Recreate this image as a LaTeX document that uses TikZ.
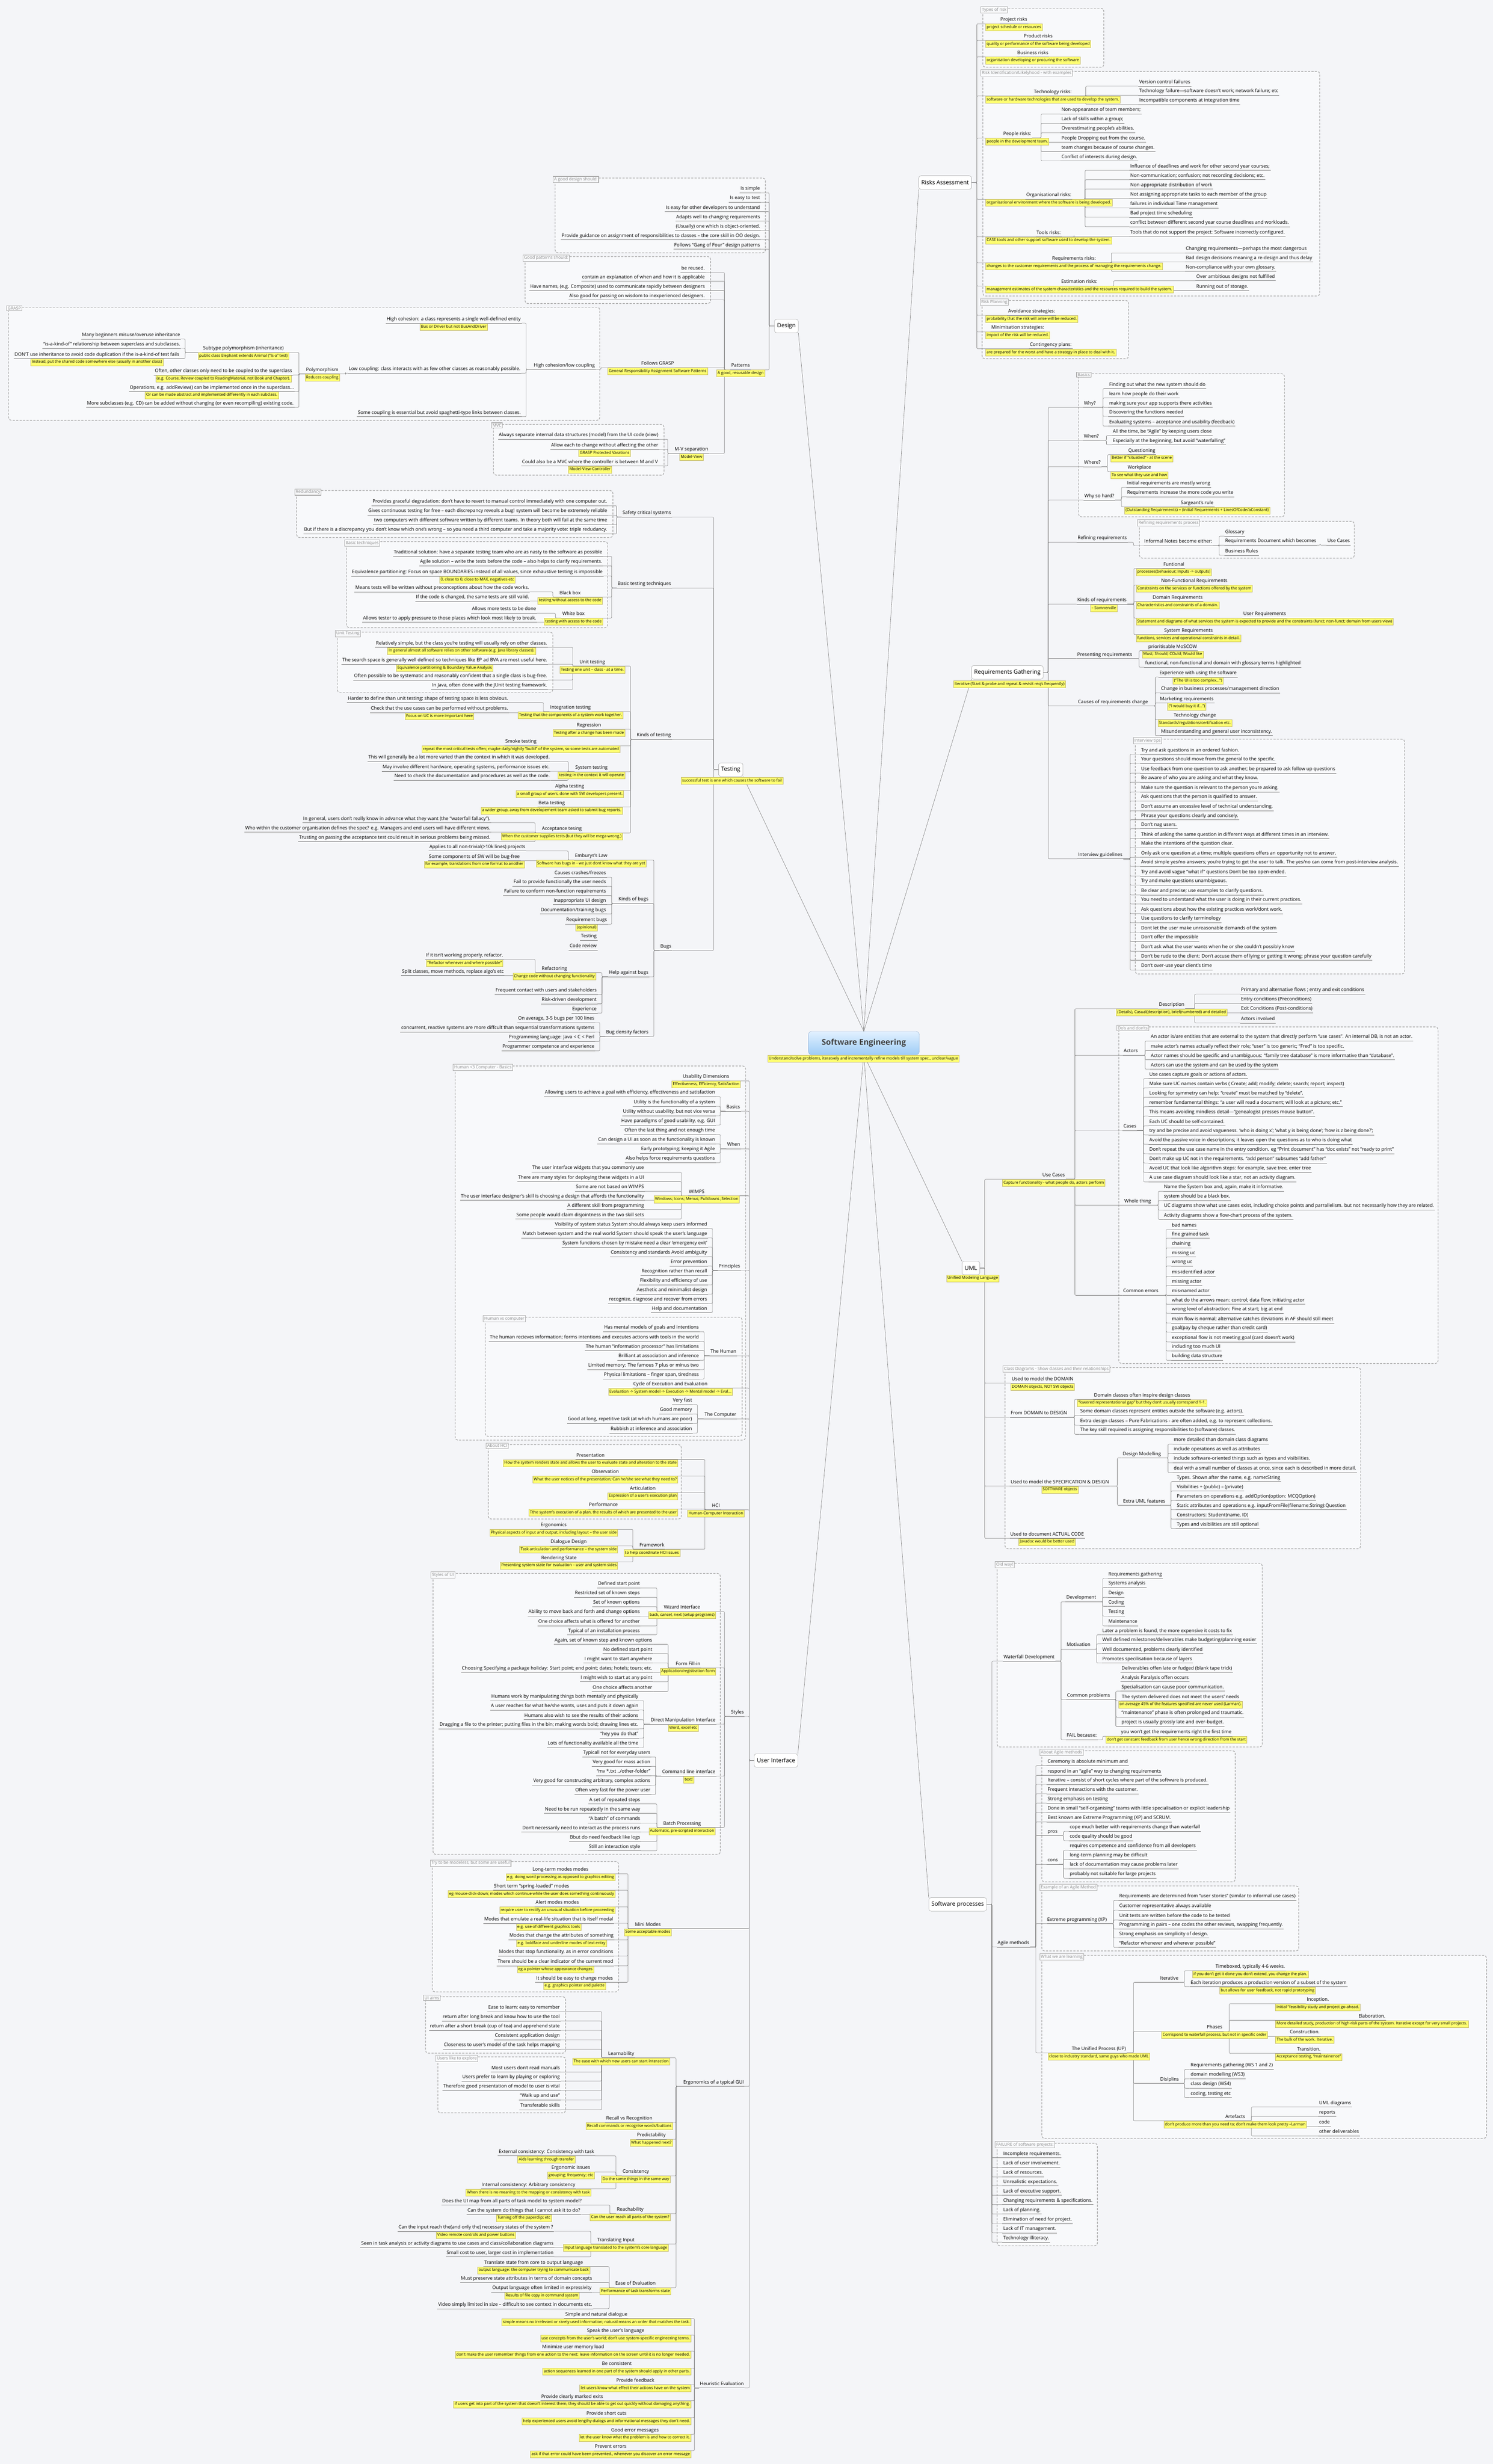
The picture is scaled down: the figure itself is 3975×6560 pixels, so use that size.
\documentclass[tikz,border=0pt]{standalone}
\usepackage{fontspec}
\setmainfont{Open Sans}
\definecolor{bgc}{RGB}{244,245,248}
\definecolor{boxfill}{RGB}{248,249,251}
\definecolor{boxline}{RGB}{172,172,172}
\definecolor{labtext}{RGB}{140,140,140}
\definecolor{linec}{RGB}{125,125,125}
\definecolor{notefill}{RGB}{255,255,112}
\definecolor{noteline}{RGB}{196,186,110}
\definecolor{hubline}{RGB}{140,140,140}
\definecolor{coretop}{RGB}{226,241,255}
\definecolor{corebot}{RGB}{158,204,246}
\definecolor{coreline}{RGB}{128,160,200}
\pgfdeclarelayer{back}
\pgfdeclarelayer{wires}
\pgfsetlayers{back,wires,main}
\tikzset{
  conn/.style={draw=linec, line width=0.6pt, rounded corners=2pt},
  lf/.style={font=\fontsize{9}{10}\selectfont, inner xsep=1.5pt, inner ysep=3pt,
    text height=6.6pt, text depth=1.9pt,
    append after command={(\tikzlastnode.south west) edge[conn] (\tikzlastnode.south east)}},
  nt/.style={font=\fontsize{7.5}{8}\selectfont, fill=notefill, draw=noteline, line width=0.4pt,
    inner xsep=2pt, inner ysep=3pt, text height=5.5pt, text depth=1.6pt},
  grp/.style={draw=boxline, line width=1.3pt, dash pattern=on 4pt off 2.5pt, rounded corners=5pt, fill=boxfill},
  glab/.style={draw=boxline, line width=1pt, fill=boxfill, text=labtext, font=\fontsize{8}{9}\selectfont, inner sep=2pt},
  hub/.style={draw=hubline, fill=white, rounded corners=4pt, font=\fontsize{11}{13}\selectfont, minimum height=9mm, inner xsep=5pt},
  core/.style={draw=coreline, top color=coretop, bottom color=corebot, rounded corners=6pt,
    font=\bfseries\fontsize{15}{17}\selectfont, text=black!75, minimum width=73.75mm, minimum height=15.5mm}
}
% connectors and boundaries are collected, then drawn once on their layers
\newcommand{\wirelist}{}
\newcommand{\boxlist}{}
\newcommand{\wire}[3]{\edef\wtmp{\noexpand\draw[conn] (#1) -- (#2,0 |- #1) |- (#3);}%
  \xdef\wirelist{\unexpanded\expandafter{\wirelist}\unexpanded\expandafter{\wtmp}}}
% leaves to the right / left of a parent: parent, trunk x, text x, {y/text,...}
\newcommand{\kidsR}[4]{%
  \foreach \y/\txt [count=\i] in {#4}{%
    \node[lf,anchor=west] (#1-\i) at (#3,\y) {\txt};
    \wire{#1.south east}{#2}{#1-\i.south west}}}
\newcommand{\kidsL}[4]{%
  \foreach \y/\txt [count=\i] in {#4}{%
    \node[lf,anchor=east] (#1-\i) at (#3,\y) {\txt};
    \wire{#1.south west}{#2}{#1-\i.south east}}}
% single links: parent, trunk x, child
\newcommand{\linkR}[3]{\wire{#1.south east}{#2}{#3.south west}}
\newcommand{\linkL}[3]{\wire{#1.south west}{#2}{#3.south east}}
\newcommand{\hubR}[3]{\wire{#1.east}{#2}{#3.south west}}
\newcommand{\hubL}[3]{\wire{#1.west}{#2}{#3.south east}}
% topic with a note: name, note x, note y, label, note
\newcommand{\topR}[5]{\node[nt,anchor=west] (#1n) at (#2,#3) {#5}; \node[lf,anchor=south] (#1) at (#1n.north) {#4};}
\newcommand{\topL}[5]{\node[nt,anchor=east] (#1n) at (#2,#3) {#5}; \node[lf,anchor=south] (#1) at (#1n.north) {#4};}
\newcommand{\topC}[5]{\node[nt] (#1n) at (#2,#3) {#5}; \node[lf,anchor=south] (#1) at (#1n.north) {#4};}
% dashed boundary with its title
\newcommand{\grpbox}[5]{\xdef\boxlist{\unexpanded\expandafter{\boxlist}\unexpanded{\draw[grp] (#1,#2) rectangle (#3,#4);}}%
  \node[glab,anchor=north west] at (#1-6,#2-5) {#5};}

\begin{document}
\begin{tikzpicture}[x=0.25mm,y=-0.25mm]
\useasboundingbox (0,0) rectangle (3975,6560);

% Central topic
\node[core] (se) at (2300,2777) {Software Engineering};
\node[nt] (sen) at (2299,2819) {Understand/solve problems, iteratvely and incrementally refine models till system spec., unclear/vague};

% ---------------- Risks Assessment ----------------
\node[hub,anchor=east] (risk) at (2587,486) {Risks Assessment};
\grpbox{2617}{22}{2939}{179}{Types of risk}
\topR{prj}{2624}{73}{Project risks}{project schedule or resources}
\topR{prd}{2624}{117}{Product risks}{quality or performance of the software being developed}
\topR{bus}{2624}{161}{Business risks}{organisation developing or procuring the software}
\grpbox{2617}{190}{3514}{788}{Risk Identification/Likelyhood - with examples}
\topR{tek}{2624}{265}{Technology risks:}{software or hardware technologies that are used to develop the system.}
\kidsR{tek}{2891}{3031}{219/{Version control failures},243/{Technology failure—software doesn’t work; network failure; etc},268/{Incompatible components at integration time}}
\topR{ppl}{2624}{377}{People risks:}{people in the development team.}
\kidsR{ppl}{2772}{2824}{293/{Non-appearance of team members;},318/{Lack of skills within a group;},343/{Overestimating people’s abilities.},368/{People Dropping out from the course.},393/{team changes because of course changes.},418/{Conflict of interests during design.}}
\topR{org}{2624}{540}{Organisational risks:}{organisational environment where the software is being developed.}
\kidsR{org}{2889}{3007}{443/{Influence of deadlines and work for other second year courses;},468/{Non-communication; confusion; not recording decisions; etc.},493/{Non-appropriate distribution of work},518/{Not assigning appropriate tasks to each member of the group},543/{failures in individual Time management},568/{Bad project time scheduling},593/{conflict between different second year course deadlines and workloads.}}
\topR{tls}{2624}{640}{Tools risks:}{CASE tools and other support software used to develop the system.}
\kidsR{tls}{2860}{3007}{619/{Tools that do not support the project: Software incorrectly configured.}}
\topR{rqr}{2624}{709}{Requirements risks:}{changes to the customer requirements and the process of managing the requirements change.}
\kidsR{rqr}{2959}{3155}{663/{Changing requirements—perhaps the most dangerous},687/{Bad design decisions meaning a re-design and thus delay},712/{Non-compliance with your own glossary.}}
\topR{est}{2624}{771}{Estimation risks:}{management estimates of the system characteristics and the resources required to build the system.}
\kidsR{est}{2965}{3183}{737/{Over ambitious designs not fulfilled},763/{Running out of storage.}}
\grpbox{2615}{800}{3005}{955}{Risk Planning}
\topR{avd}{2624}{849}{Avoidance strategies:}{probability that the risk will arise will be reduced.}
\topR{mnm}{2624}{893}{Minimisation strategies:}{impact of the risk will be reduced.}
\topR{cnt}{2624}{938}{Contingency plans:}{are prepared for the worst and have a strategy in place to deal with it.}
\foreach \c in {prj,prd,bus,tek,ppl,org,tls,rqr,est,avd,mnm,cnt}{\hubR{risk}{2601}{\c}}

% ---------------- Requirements Gathering ----------------
\node[hub,anchor=east] (req) at (2778,1790) {Requirements Gathering};
\node[nt] (reqn) at (2688,1821) {Iterative (Start \& probe and repeat \& revisit req’s frequently)};
\grpbox{2872}{995}{3420}{1376}{Basics}
\node[lf,anchor=east] (why) at (2920,1074) {Why?};
\kidsR{why}{2937}{2951}{1024/{Finding out what the new system should do},1049/{learn how people do their work},1074/{making sure your app supports there activities},1098/{Discovering the functions needed},1124/{Evaluating systems – acceptance and usability (feedback)}}
\node[lf,anchor=east] (when) at (2928,1162) {When?};
\kidsR{when}{2946}{2961}{1149/{All the time, be “Agile” by keeping users close},1174/{Especially at the beginning, but avoid “waterfalling”}}
\node[lf,anchor=east] (where) at (2933,1232) {Where?};
\topR{qst}{2957}{1220}{Questioning}{Better if “situatied” - at the scene}
\topR{wkp}{2957}{1265}{Workplace}{To see what they use and how}
\linkR{where}{2949}{qst} \linkR{where}{2949}{wkp}
\node[lf,anchor=east] (hard) at (2969,1321) {Why so hard?};
\kidsR{hard}{2986}{2999}{1287/{Initial requirements are mostly wrong},1312/{Requirements increase the more code you write}}
\topR{sarg}{2994}{1359}{Sargeant’s rule}{(Outstanding Requirements) = (Initial Requrements + LinesOfCode/aConstant)}
\linkR{hard}{2986}{sarg}
\node[lf,anchor=east] (refr) at (3003,1433) {Refining requirements};
\grpbox{3034}{1388}{3606}{1486}{Refining requirements process}
\node[lf,anchor=east] (inf) at (3230,1442) {Informal Notes become either:};
\linkR{refr}{3018}{inf}
\kidsR{inf}{3246}{3260}{1417/{Glossary},1441/{Requirements Document which becomes},1468/{Business Rules}}
\node[lf,anchor=west] (ucs) at (3532,1441) {Use Cases};
\linkR{inf-2}{3515}{ucs}
\node[lf,anchor=east] (kinds) at (3002,1598) {Kinds of requirements};
\node[nt,anchor=east] (kindsn) at (2975,1619) {-- Somnerville};
\topR{fun}{3025}{1523}{Funtional}{processes(behaviour; Inputs -> outputs)}
\topR{nfr}{3025}{1567}{Non-Functional Requirements}{Constraints on the services or functions offered by the system}
\topR{dom}{3025}{1611}{Domain Requirements}{Characteristics and constraints of a domain.}
\topR{usr}{3025}{1655}{User Requirements}{Statement and diagrams of what services the system is expected to provide and the constraints (funct; non-funct; domain from users view)}
\topR{sys}{3025}{1699}{System Requirements}{functions, services and operational constraints in detail.}
\foreach \c in {fun,nfr,dom,usr,sys}{\linkR{kinds}{3019}{\c}}
\node[lf,anchor=east] (pres) at (3017,1743) {Presenting requirements};
\topR{mos}{3041}{1742}{prioritisable MoSCOW}{Must; Should; COuld; Would like}
\node[lf,anchor=west] (pres2) at (3047,1766) {functional, non-functional and domain with glossary terms highlighted};
\linkR{pres}{3033}{mos} \linkR{pres}{3033}{pres2}
\node[lf,anchor=east] (cause) at (3059,1869) {Causes of requirements change};
\topC{cs1}{3190}{1812}{Experience with using the software}{(“The UI is too complex...”)}
\node[lf,anchor=west] (cs2) at (3089,1834) {Change in business processes/management direction};
\topC{cs3}{3160}{1881}{Marketing requirements}{(“I would buy it if...”)}
\topR{cs4}{3083}{1925}{Technology change}{Standards/regulations/certification etc.}
\node[lf,anchor=west] (cs5) at (3089,1948) {Misunderstanding and general user inconsistency.};
\foreach \c in {cs1,cs2,cs3,cs4,cs5}{\linkR{cause}{3076}{\c}}
\node[lf,anchor=east] (intv) at (2991,2276) {Interview guidelines};
\grpbox{3023}{1968}{3740}{2593}{Interview tips}
\kidsR{intv}{3009}{3036}{1998/{Try and ask questions in an ordered fashion.},2022/{Your questions should move from the general to the specific.},2048/{Use feedback from one question to ask another; be prepared to ask follow up questions},2072/{Be aware of who you are asking and what they know.},2098/{Make sure the question is relevant to the person youre asking.},2122/{Ask questions that the person is qualified to answer.},2148/{Don’t assume an excessive level of technical understanding.},2172/{Phrase your questions clearly and concisely.},2196/{Don’t nag users.},2222/{Think of asking the same question in different ways at different times in an interview.},2246/{Make the intentions of the question clear.},2272/{Only ask one question at a time; multiple questions offers an opportunity not to answer.},2296/{Avoid simple yes/no answers; you’re trying to get the user to talk. The yes/no can come from post-interview analysis.},2322/{Try and avoid vague “what if” questions Don’t be too open-ended.},2346/{Try and make questions unambiguous.},2372/{Be clear and precise; use examples to clarify questions.},2396/{You need to understand what the user is doing in their current practices.},2422/{Ask questions about how the existing practices work/dont work.},2446/{Use questions to clarify terminology},2472/{Dont let the user make unreasonable demands of the system},2496/{Don’t offer the impossible},2522/{Don’t ask what the user wants when he or she couldn’t possibly know},2546/{Don’t be rude to the client: Don’t accuse them of lying or getting it wrong; phrase your question carefully},2572/{Don’t over-use your client’s time}}
\foreach \c in {why,when,where,hard,refr,kinds,pres,cause,intv}{\hubR{req}{2791}{\c}}

% ---------------- UML ----------------
\node[hub,anchor=east] (uml) at (2609,3376) {UML};
\node[nt] (umln) at (2590,3403) {Unified Modeling Language};
\topR{ucase}{2669}{3149}{Use Cases}{Capture functionality - what people do, actors perform}
\topR{desc}{2972}{2695}{Description}{(Details), Casual(description), brief(numbered) and detailed}
\linkR{ucase}{2862}{desc}
\kidsR{desc}{3181}{3302}{2636/{Primary and alternative flows ; entry and exit conditions},2661/{Entry conditions (Preconditions)},2686/{Exit Conditions (Post-conditions)},2713/{Actors involved}}
\grpbox{2979}{2734}{3829}{3630}{Do’s and don’ts}
\node[lf,anchor=east] (act) at (3032,2799) {Actors};
\kidsR{act}{3049}{3062}{2761/{An actor is/are entities that are external to the system that directly perform “use cases”. An internal DB, is not an actor.},2786/{make actor’s names actually reflect their role; “user” is too generic; “Fred” is too specific.},2811/{Actor names should be specific and unambiguous: “family tree database” is more informative than “database”.},2836/{Actors can use the system and can be used by the system}}
\node[lf,anchor=east] (cas) at (3028,2999) {Cases};
\kidsR{cas}{3045}{3058}{2861/{Use cases capture goals or actions of actors.},2886/{Make sure UC names contain verbs ( Create; add; modify; delete; search; report; inspect)},2911/{Looking for symmetry can help: “create” must be matched by “delete”.},2936/{remember fundamental things: “a user will read a document; will look at a picture; etc.”},2961/{This means avoiding mindless detail—“genealogist presses mouse button”.},2987/{Each UC should be self-contained.},3011/{try and be precise and avoid vagueness. ‘who is doing x’; ‘what y is being done’; ‘how is z being done?’;},3036/{Avoid the passive voice in descriptions; it leaves open the questions as to who is doing what},3061/{Don’t repeat the use case name in the entry condition. eg “Print document” has “doc exists” not “ready to print”},3086/{Don’t make up UC not in the requirements. “add person” subsumes “add father”},3111/{Avoid UC that look like algorithm steps: for example, save tree, enter tree},3136/{A use case diagram should look like a star, not an activity diagram.}}
\node[lf,anchor=east] (whl) at (3067,3198) {Whole thing};
\kidsR{whl}{3084}{3097}{3161/{Name the System box and, again, make it informative.},3186/{system should be a black box.},3211/{UC diagrams show what use cases exist, including choice points and parrallelism. but not necessarily how they are related.},3236/{Activity diagrams show a flow-chart process of the system.}}
\node[lf,anchor=east] (cerr) at (3087,3438) {Common errors};
\kidsR{cerr}{3105}{3118}{3263/{bad names},3286/{fine grained task},3312/{chaining},3336/{missing uc},3360/{wrong uc},3388/{mis-identified actor},3412/{missing actor},3438/{mis-named actor},3462/{what do the arrows mean: control; data flow; initiating actor},3486/{wrong level of abstraction: Fine at start; big at end},3512/{main flow is normal; alternative catches deviations in AF should still meet},3536/{goal(pay by cheque rather than credit card)},3562/{exceptional flow is not meeting goal (card doesn’t work)},3586/{including too much UI},3611/{building data structure}}
\foreach \c in {act,cas,whl,cerr}{\linkR{ucase}{2862}{\c}}
\grpbox{2676}{3641}{3623}{4123}{Class Diagrams - Show classes and their relationships}
\topC{udom}{2776}{3692}{Used to model the DOMAIN}{DOMAIN objects, NOT SW objects}
\node[lf,anchor=west] (d2d) at (2689,3763) {From DOMAIN to DESIGN};
\topR{d2da}{2868}{3735}{Domain classes often inspire design classes}{“lowered representational gap” but they don’t usually correspond 1-1.}
\linkR{d2d}{2861}{d2da}
\kidsR{d2d}{2861}{2874}{3758/{Some domain classes represent entities outside the software (e.g. actors).},3784/{Extra design classes – Pure Fabrications - are often added, e.g. to represent collections.},3808/{The key skill required is assigning responsibilities to (software) classes.}}
\topC{uspec}{2822}{3966}{Used to model the SPECIFICATION \& DESIGN}{SOFTWARE objects}
\node[lf,anchor=west] (dmod) at (2987,3871) {Design Modelling};
\node[lf,anchor=west] (xuml) at (2988,3997) {Extra UML features};
\linkR{uspec}{2975}{dmod} \linkR{uspec}{2975}{xuml}
\kidsR{dmod}{3110}{3123}{3834/{more detailed than domain class diagrams},3859/{include operations as well as attributes},3884/{include software-oriented things such as types and visibilities.},3910/{deal with a small number of classes at once, since each is described in more detail.}}
\kidsR{xuml}{3118}{3131}{3934/{Types. Shown after the name, e.g. name:String},3959/{Visibilities + (public) – (private)},3984/{Parameters on operations e.g. addOption(option: MCQOption)},4009/{Static attributes and operations e.g. inputFromFile(filename:String):Question},4034/{Constructors: Student(name, ID)},4059/{Types and visibilities are still optional}}
\topC{udoc}{2788}{4105}{Used to document ACTUAL CODE}{Javadoc would be better used}
\foreach \c in {ucase,udom,d2d,uspec,udoc}{\hubR{uml}{2622}{\c}}

% ---------------- Software processes ----------------
\node[hub,anchor=east] (proc) at (2627,5070) {Software processes};
\grpbox{2655}{4162}{3361}{4651}{Old way!}
\node[lf,anchor=west] (wat) at (2670,4412) {Waterfall Development};
\node[lf,anchor=west] (wdev) at (2837,4254) {Development};
\kidsR{wdev}{2936}{2949}{4192/{Requirements gathering},4216/{Systems analysis},4242/{Design},4266/{Coding},4292/{Testing},4318/{Maintenance}}
\node[lf,anchor=west] (wmot) at (2838,4380) {Motivation};
\kidsR{wmot}{2920}{2933}{4342/{Later a problem is found, the more expensive it costs to fix},4366/{Well defined milestones/deliverables make budgeting/planning easier},4392/{Well documented, problems clearly identified},4417/{Promotes specilisation because of layers}}
\node[lf,anchor=west] (wprob) at (2839,4514) {Common problems};
\kidsR{wprob}{2971}{2984}{4442/{Deliverables offen late or fudged (blank tape trick)},4467/{Analysis Paralysis offen occurs},4492/{Specialisation can cause poor communication.}}
\topR{wpx}{2978}{4538}{The system delivered does not meet the users’ needs}{on average 45\% of the features specified are never used (Larman).}
\linkR{wprob}{2971}{wpx}
\kidsR{wprob}{2971}{2984}{4561/{“maintenance” phase is often prolonged and traumatic.},4586/{project is usually grossly late and over-budget.}}
\node[lf,anchor=west] (wfail) at (2838,4621) {FAIL because:};
\topR{wfx}{2944}{4632}{you won’t get the requirements right the first time}{don’t get constant feedback from user hence wrong direction from the start}
\linkR{wfail}{2936}{wfx}
\foreach \c in {wdev,wmot,wprob,wfail}{\linkR{wat}{2825}{\c}}
\grpbox{2774}{4661}{3289}{5010}{About Agile methods}
\node[lf,anchor=west] (agl) at (2654,5173) {Agile methods};
\kidsR{agl}{2758}{2787}{4690/{Ceremony is absolute minimum and},4716/{respond in an “agile” way to changing requirements},4740/{Iterative – consist of short cycles where part of the software is produced.},4765/{Frequent interactions with the customer.},4790/{Strong emphasis on testing},4815/{Done in small “self-organising” teams with little specialisation or explicit leadership},4840/{Best known are Extreme Programming (XP) and SCRUM.}}
\node[lf,anchor=west] (pros) at (2787,4876) {pros};
\kidsR{pros}{2832}{2846}{4865/{cope much better with requirements change than waterfall},4890/{code quality should be good}}
\node[lf,anchor=west] (cons) at (2787,4953) {cons};
\kidsR{cons}{2832}{2846}{4915/{requires competence and confidence from all developers},4940/{long-term planning may be difficult},4965/{lack of documentation may cause problems later},4990/{probably not suitable for large projects}}
\grpbox{2774}{5021}{3458}{5194}{Example of an Agile Method}
\node[lf,anchor=west] (xp) at (2786,5111) {Extreme programming (XP)};
\kidsR{xp}{2965}{2978}{5049/{Requirements are determined from “user stories” (similar to informal use cases)},5075/{Customer representative always available},5101/{Unit tests are written before the code to be tested},5125/{Programming in pairs – one codes the other reviews, swapping frequently.},5149/{Strong emphasis on simplicity of design.},5174/{“Refactor whenever and wherever possible”}}
\grpbox{2774}{5206}{3958}{5693}{What we are learning}
\topC{up}{2926}{5475}{The Unified Process (UP)}{close to industry standard, same guys who made UML}
\foreach \c in {pros,cons,xp,up}{\linkR{agl}{2758}{\c}}
\node[lf,anchor=west] (itr) at (3087,5267) {Iterative};
\topC{itra}{3329}{5256}{Timeboxed, typically 4-6 weeks.}{if you don’t get it done you don’t extend, you change the plan.}
\node[lf,anchor=west] (itrb) at (3168,5279) {Each iteration produces a production version of a subset of the system};
\node[nt] (itrbn) at (3375,5300) {but allows for user feedback, not rapid prototyping};
\linkR{itr}{3154}{itra} \linkR{itr}{3154}{itrb}
\topC{phs}{3234}{5418}{Phases}{Corrispond to waterfall process, but not in  specific order}
\topR{inc}{3396}{5344}{Inception.}{Initial “feasibility study and project go-ahead.}
\topR{ela}{3396}{5388}{Elaboration.}{More detailed study, production of high-risk parts of the system. Iterative except for very small projects.}
\topR{cst}{3396}{5431}{Construction.}{The bulk of the work. Iterative.}
\topR{trn}{3396}{5476}{Transition.}{Acceptance testing, “maintainence”}
\foreach \c in {inc,ela,cst,trn}{\linkR{phs}{3273}{\c}}
\node[lf,anchor=west] (dsp) at (3087,5536) {Disiplins};
\kidsR{dsp}{3154}{3168}{5499/{Requirements gathering (WS 1 and 2)},5524/{domain modelling (WS3)},5549/{class design (WS4)},5574/{coding, testing etc}}
\topC{art}{3289}{5656}{Artefacts}{don’t produce more than you need to; don’t make them look pretty --Larman}
\kidsR{art}{3332}{3510}{5599/{UML diagrams},5624/{reports},5651/{code},5676/{other deliverables}}
\foreach \c in {itr,phs,dsp,art}{\linkR{up}{3018}{\c}}
\grpbox{2655}{5706}{2922}{5979}{FAILURE of software projects:}
\foreach \y/\txt [count=\i] in {5734/{Incomplete requirements.},5760/{Lack of user involvement.},5785/{Lack of resources.},5809/{Unrealistic expectations.},5834/{Lack of executive support.},5859/{Changing requirements \& specifications.},5884/{Lack of planning.},5909/{Elimination of need for project.},5934/{Lack of IT management.},5959/{Technology illiteracy.}}{
  \node[lf,anchor=west] (fl\i) at (2669,\y) {\txt};
  \hubR{proc}{2641}{fl\i}}
\hubR{proc}{2641}{wat} \hubR{proc}{2641}{agl}

% ---------------- Design ----------------
\node[hub,anchor=west] (des) at (2062,868) {Design};
\grpbox{1478}{474}{2038}{673}{A good design should:}
\foreach \y/\txt [count=\i] in {503/{Is simple},528/{Is easy to test},553/{Is easy for other developers to understand},578/{Adapts well to changing requirements},603/{(Usually) one which is object-oriented.},628/{Provide guidance on assignment of responsibilities to classes – the core skill in OO design.},653/{Follows “Gang of Four” design patterns}}{
  \node[lf,anchor=east] (gd\i) at (2026,\y) {\txt};
  \hubL{des}{2048}{gd\i}}
\topC{pat}{1972}{994}{Patterns}{A good, resusable design}
\hubL{des}{2048}{pat}
\grpbox{1398}{683}{1892}{808}{Good patterns should:}
\kidsL{pat}{1929}{1879}{715/{be reused.},738/{contain an explanation of when and how it is applicable},763/{Have names, (e.g. Composite) used to communicate rapidly between designers},788/{Also good for passing on wisdom to inexperienced designers.}}
\topC{grasp}{1751}{988}{Follows GRASP}{General Responsibility Assignment Software Patterns}
\linkL{pat}{1929}{grasp}
\grpbox{23}{818}{1597}{1119}{GRASP}
\node[lf,anchor=east] (hclc) at (1586,973) {High cohesion/low coupling};
\linkL{grasp}{1600}{hclc}
\topC{hc}{1208}{870}{High cohesion: a class represents a single well-defined entity}{Bus or Driver but not BusAndDriver}
\node[lf,anchor=east] (lc) at (1388,983) {Low coupling: class interacts with as few other classes as reasonably possible.};
\node[lf,anchor=east] (sc) at (1389,1099) {Some coupling is essential but avoid spaghetti-type links between classes.};
\foreach \c in {hc,lc,sc}{\linkL{hclc}{1401}{\c}}
\topC{poly}{858}{1005}{Polymorphism}{Reduces coupling}
\linkL{lc}{920}{poly}
\topC{sub}{648}{948}{Subtype polymorphism (inheritance)}{public class Elephant extends Animal (“Is-a” test)}
\topC{oft}{595}{1008}{Often, other classes only need to be coupled to the superclass}{(e.g. Course, Review coupled to ReadingMaterial, not Book and Chapter).}
\topC{ops}{564}{1052}{Operations, e.g. addReview() can be implemented once in the superclass...}{Or can be made abstract and implemented differently in each subclass.}
\node[lf,anchor=east] (mor) at (784,1074) {More subclasses (e.g. CD) can be added without changing (or even recompiling) existing code.};
\foreach \c in {sub,oft,ops,mor}{\linkL{poly}{796}{\c}}
\kidsL{sub}{493}{482}{892/{Many beginners misuse/overuse inheritance},917/{“is-a-kind-of” relationship between superclass and subclasses.}}
\topC{dont}{258}{964}{DON’T use inheritance to avoid code duplication if the is-a-kind-of test fails}{Instead, put the shared code somewhere else (usually in another class)}
\linkL{sub}{493}{dont}
\grpbox{1314}{1130}{1768}{1265}{MVC}
\topC{mv}{1841}{1217}{M-V separation}{Model-View}
\linkL{pat}{1929}{mv}
\node[lf,anchor=east] (mva) at (1755,1159) {Always separate internal data structures (model) from the UI code (view)};
\topC{mvb}{1610}{1206}{Allow each to change without affecting the other}{GRASP Protected Varations}
\topC{mvc}{1571}{1250}{Could also be a MVC where the controller is between M and V}{Model-View-Controller}
\foreach \c in {mva,mvb,mvc}{\linkL{mv}{1778}{\c}}

% ---------------- Testing ----------------
\node[hub,anchor=west] (tst) at (1913,2049) {Testing};
\node[nt] (tstn) at (1949,2079) {successful test is one which causes the software to fail};
\grpbox{790}{1306}{1632}{1431}{Redundancy}
\node[lf,anchor=east] (safe) at (1789,1366) {Safety critical systems};
\kidsL{safe}{1642}{1619}{1336/{Provides graceful degradation: don’t have to revert to manual control immediately with one computer out.},1361/{Gives continuous testing for free – each discrepancy reveals a bug! system will become be extremely reliable},1386/{two computers with different software written by different teams. In theory both will fail at the same time},1411/{But if there is a discrepancy you don’t know which one’s wrong – so you need a third computer and take a majority vote: triple redudancy.}}
\grpbox{923}{1442}{1618}{1671}{Basic techniques}
\node[lf,anchor=east] (btt) at (1789,1555) {Basic testing techniques};
\kidsL{btt}{1629}{1606}{1471/{Traditional solution: have a separate testing team who are as nasty to the software as possible},1496/{Agile solution – write the tests before the code – also helps to clarify requirements.}}
\topC{eqp}{1271}{1543}{Equivalence partitioning: Focus on space BOUNDARIES instead of all values, since exhaustive testing is impossible}{0, close to 0, close to MAX, negatives etc}
\topC{bbx}{1518}{1599}{Black box}{testing without access to the code}
\topC{wbx}{1527}{1655}{White box}{testing with access to the code}
\foreach \c in {eqp,bbx,wbx}{\linkL{btt}{1629}{\c}}
\kidsL{bbx}{1472}{1411}{1565/{Means tests will be written without preconceptions about how the code works.},1590/{If the code is changed, the same tests are still valid.}}
\kidsL{wbx}{1479}{1430}{1622/{Allows more tests to be done},1646/{Allows tester to apply pressure to those places which look most likely to break.}}
\grpbox{898}{1683}{1472}{1843}{Unit Testing}
\node[lf,anchor=east] (kot) at (1789,1958) {Kinds of testing};
\topC{ut}{1577}{1783}{Unit testing}{Testing one unit – class - at a time.}
\topC{uta}{1229}{1733}{Relatively simple, but the class you’re testing will usually rely on other classes.}{In general almost all software relies on other software (e.g. Java library classes).}
\topC{utb}{1184}{1778}{The search space is generally well defined so techniques like EP ad BVA are most useful here.}{Equivalence partitioning \& Boundary Value Analysis}
\linkL{ut}{1525}{uta} \linkL{ut}{1525}{utb}
\kidsL{ut}{1525}{1459}{1800/{Often possible to be systematic and reasonably confident that a single class is bug-free.},1825/{In Java, often done with the JUnit testing framework.}}
\topC{itg}{1519}{1904}{Integration testing}{Testing that the components of a system work together.}
\kidsL{itg}{1447}{1355}{1860/{Harder to define than unit testing; shape of testing space is less obvious.}}
\topC{itgb}{1170}{1907}{Check that the use cases can be performed without problems.}{Focus on UC is more important here}
\linkL{itg}{1447}{itgb}
\topC{reg}{1568}{1951}{Regression}{Testing after a change has been made}
\topC{smk}{1387}{1995}{Smoke testing}{repeat the most critical tests offen; maybe daily/nightly “build” of the system, so some tests are automated}
\topC{syt}{1575}{2064}{System testing}{testing in the context it will operate}
\kidsL{syt}{1513}{1466}{2017/{This will generally be a lot more varied than the context in which it was developed.},2043/{May involve different hardware, operating systems, performance issues etc.},2067/{Need to check the documentation and procedures as well as the code.}}
\topC{alp}{1517}{2114}{Alpha testing}{a small group of users, done with SW developers present.}
\topC{bet}{1469}{2158}{Beta testing}{a wider group, away from developement team asked to submit bug reports.}
\topC{acc}{1496}{2227}{Acceptance tesing}{When the customer supplies tests (but they will be mega-wrong.)}
\kidsL{acc}{1425}{1308}{2180/{In general, users don’t really know in advance what they want (the “waterfall fallacy”).},2205/{Who within the customer organisation defines the spec? e.g. Managers and end users will have different views.},2230/{Trusting on passing the acceptance test could result in serious problems being missed.}}
\foreach \c in {ut,itg,reg,smk,syt,alp,bet,acc}{\linkL{kot}{1679}{\c}}
% Bugs
\node[lf,anchor=east] (bug) at (1790,2520) {Bugs};
\topC{emb}{1574}{2299}{Emburys’s Law}{Software has bugs in - we just dont know what they are yet}
\kidsL{emb}{1513}{1401}{2255/{Applies to all non-trivial(>10k lines) projects}}
\topC{embb}{1263}{2301}{Some components of SW will be bug-free}{for example, translations from one format to another}
\linkL{emb}{1513}{embb}
\node[lf,anchor=east] (kob) at (1729,2395) {Kinds of bugs};
\kidsL{kob}{1629}{1616}{2325/{Causes crashes/freezes},2349/{Fail to provide functionally the user needs},2374/{Failure to conform non-function requirements},2398/{Inappropriate UI design},2423/{Documentation/training bugs}}
\topC{kobr}{1562}{2470}{Requirement bugs}{(opinional)}
\linkL{kob}{1629}{kobr}
\node[lf,anchor=east] (hab) at (1729,2590) {Help against bugs};
\kidsL{hab}{1603}{1591}{2493/{Testing},2519/{Code review}}
\topC{rfc}{1476}{2599}{Refactoring}{Change code without changing functionality}
\linkL{hab}{1603}{rfc}
\kidsL{hab}{1603}{1591}{2637/{Frequent contact with users and stakeholders},2662/{Risk-driven development},2687/{Experience}}
\topC{rfa}{1237}{2564}{If it isn’t working properly, refactor.}{“Refactor whenever and where possible”}
\linkL{rfc}{1425}{rfa}
\kidsL{rfc}{1425}{1344}{2587/{Split classes, move methods, replace algo’s etc}}
\node[lf,anchor=east] (bdf) at (1729,2749) {Bug density factors};
\kidsL{bdf}{1597}{1585}{2712/{On average, 3-5 bugs per 100 lines},2737/{concurrent, reactive systems are more diffcult than sequential transformations systems},2762/{Programming language: Java < C < Perl},2787/{Programmer competence and experience}}
\foreach \c in {emb,kob,hab,bdf}{\linkL{bug}{1741}{\c}}
\foreach \c in {safe,btt,kot,bug}{\hubL{tst}{1900}{\c}}

% ---------------- User Interface ----------------
\node[hub,anchor=west] (ui) at (2008,4687) {User Interface};
\grpbox{1212}{2838}{1985}{3834}{Human <3 Computer - Basics}
\topC{udim}{1880}{2887}{Usability Dimensions}{Effectiveness, Efficiency, Satisfaction}
\node[lf,anchor=east] (ubas) at (1973,2948) {Basics};
\kidsL{ubas}{1918}{1906}{2909/{Allowing users to achieve a goal with efficiency, effectiveness and satisfaction},2935/{Utility  is the functionality of a system},2960/{Utility without usability, but not vice versa},2985/{Have paradigms of good usability, e.g. GUI}}
\node[lf,anchor=east] (uwhen) at (1973,3048) {When};
\kidsL{uwhen}{1918}{1906}{3010/{Often the last thing and not enough time},3035/{Can design a UI as soon as the functionality is known},3060/{Early prototyping; keeping it Agile},3085/{Also helps force requirements questions}}
\topC{wimp}{1855}{3193}{WIMPS}{Windows; Icons;  Menus; Pulldowns ;Selection}
\kidsL{wimp}{1814}{1717}{3110/{The user interface widgets that you commonly use},3135/{There are many styles for deploying these widgets in a UI},3161/{Some are not based on WIMPS},3185/{The user interface designer’s skill is choosing a design that affords the functionality},3210/{A different skill from programming},3235/{Some people would claim disjointness in the two skill sets}}
\node[lf,anchor=east] (prin) at (1973,3372) {Principles};
\kidsL{prin}{1897}{1885}{3260/{Visibility of system status System should always keep users informed},3285/{Match between system and the real world System should speak the user’s  language},3310/{System functions chosen by mistake need a clear ‘emergency exit’},3335/{Consistency and standards Avoid ambiguity},3360/{Error prevention},3385/{Recognition rather than recall},3410/{Flexibility and efficiency of use},3435/{Aesthetic and minimalist design},3460/{recognize, diagnose and recover from errors},3484/{Help and documentation}}
\grpbox{1292}{3507}{1976}{3824}{Human vs computer}
\node[lf,anchor=east] (hum) at (1963,3599) {The Human};
\kidsL{hum}{1875}{1863}{3535/{Has mental models of goals and intentions},3561/{The human recieves information; forms intentions and executes actions with tools in the world},3585/{The human “information processor” has limitations},3611/{Brilliant at association and inference},3636/{Limited memory: The famous 7 plus or minus two},3661/{Physical limitations – finger span, tiredness}}
\topC{cyc}{1785}{3705}{Cycle of Execution and Evaluation}{Evaluation -> System model -> Execution -> Mental model -> Eval...}
\node[lf,anchor=east] (cmp) at (1963,3767) {The Computer};
\kidsL{cmp}{1857}{1845}{3729/{Very fast},3754/{Good memory},3779/{Good at long, repetitive task (at which humans are poor)},3805/{Rubbish at inference and association}}
% HCI
\grpbox{1300}{3846}{1814}{4044}{About HCI}
\topC{hci}{1906}{4029}{HCI}{Human-Computer Interaction}
\topL{hpre}{1805}{3895}{Presentation}{How the system renders state and allows the user to evaluate state and alteration to the state}
\topL{hobs}{1805}{3939}{Observation}{What the user notices of the presentation; Can he/she see what they need to?}
\topL{hart}{1805}{3983}{Articulation}{Expression of a user’s execution plan}
\topL{hprf}{1805}{4027}{Performance}{Tthe system’s execution of a plan, the results of which are presented to the user}
\topC{frw}{1736}{4134}{Framework}{to help coordinate HCI issues}
\foreach \c in {hpre,hobs,hart,hprf,frw}{\linkL{hci}{1877}{\c}}
\topL{ergo}{1645}{4081}{Ergonomics}{Physical aspects of input and output, including layout – the user side}
\topL{dlg}{1645}{4125}{Dialogue Design}{Task articulation and performance – the system side}
\topL{rnd}{1645}{4168}{Rendering State}{Presenting system state for evaluation – user and system sides}
\foreach \c in {ergo,dlg,rnd}{\linkL{frw}{1685}{\c}}
% Styles
\grpbox{1153}{4189}{1918}{4937}{Styles of UI}
\node[lf,anchor=east] (sty) at (1983,4559) {Styles};
\topC{wiz}{1816}{4300}{Wizard Interface}{back, cancel, next (setup programs)}
\kidsL{wiz}{1749}{1706}{4217/{Defined start point},4242/{Restricted set of known steps},4267/{Set of known options},4292/{Ability to move back and forth and change options},4318/{One choice affects what is offered for another},4342/{Typical of an installation process}}
\topC{ffi}{1832}{4450}{Form Fill-in}{Application/registration form}
\kidsL{ffi}{1779}{1739}{4367/{Again, set of known step and known options},4392/{No defined start point},4417/{I might want to start anywhere},4442/{Choosing Specifying a package holiday: Start point; end point; dates; hotels; tours; etc.},4467/{I might wish to start at any point},4493/{One choice affects another}}
\topC{dmi}{1819}{4600}{Direct Manipulation Interface}{Word, excel etc}
\kidsL{dmi}{1714}{1702}{4517/{Humans work by manipulating things both mentally and physically},4542/{A user reaches for what he/she wants, uses and puts it down again},4568/{Humans also wish to see the results of their actions},4592/{Dragging a file to the printer; putting files in the bin; making words bold; drawing lines etc.},4617/{“hey you do that”},4642/{Lots of functionality available all the time}}
\topC{cli}{1834}{4738}{Command line interface}{text!}
\kidsL{cli}{1746}{1734}{4667/{Typicall not for everyday users},4692/{Very good for mass action},4717/{“mv *.txt ../other-folder”},4742/{Very good for constructing arbitrary, complex actions},4767/{Often very fast for the power user}}
\topC{bat}{1816}{4875}{Batch Processing}{Automatic, pre-scripted interaction}
\kidsL{bat}{1749}{1707}{4792/{A set of repeated steps},4817/{Need to be run repeatedly  in the same way},4843/{“A batch” of commands},4867/{Don’t necessarily need to interact as the process runs},4892/{Bbut do need feedback like logs},4917/{Still an interaction style}}
\foreach \c in {wiz,ffi,dmi,cli,bat}{\linkL{sty}{1929}{\c}}
% Modes
\grpbox{1151}{4956}{1647}{5303}{Try to be modeless, but some are useful}
\topC{mm}{1725}{5144}{Mini Modes}{Some acceptable modes}
\topL{mma}{1638}{4998}{Long-term modes modes}{e.g. doing word processing as opposed to graphics editing}
\topL{mmb}{1638}{5042}{Short term  “spring-loaded” modes}{eg mouse-click-down; modes which continue while the user does something continuously}
\topL{mmc}{1638}{5086}{Alert modes modes}{require user to rectify an unusual situation before proceeding}
\topC{mmd}{1461}{5130}{Modes that emulate a real-life situation that is itself modal}{e.g. use of different graphics tools}
\topC{mme}{1495}{5174}{Modes that change the attributes of something}{e.g. boldface and underline modes of text entry}
\node[lf,anchor=east] (mmf) at (1635,5197) {Modes that stop functionality, as in error conditions};
\topC{mmg}{1479}{5243}{There should be a clear indicator of the current mod}{eg a pointer whose appearance changes}
\topC{mmh}{1530}{5287}{It should be easy to change modes}{e.g. graphics pointer and palette}
\foreach \c in {mma,mmb,mmc,mmd,mme,mmf,mmg,mmh}{\linkL{mm}{1672}{\c}}
% Ergonomics of a typical GUI
\node[lf,anchor=east] (erg) at (1983,5544) {Ergonomics of a typical GUI};
\grpbox{1133}{5316}{1506}{5466}{UI aims}
\grpbox{1166}{5476}{1506}{5625}{Users like to explore}
\topC{lrn}{1654}{5488}{Learnability}{The ease with which new users can start interaction}
\kidsL{lrn}{1602}{1493}{5345/{Ease to learn; easy to remember},5370/{return after long break and know how to use the tool},5395/{return after a short break (cup of tea) and apprehend state},5420/{Consistent application design},5445/{Closeness to user’s model of the task helps mapping},5506/{Most users don’t read manuals},5530/{Users prefer to learn by playing or exploring},5555/{Therefore good presentation of model to user is vital},5580/{“Walk up and use”},5606/{Transferable skills}}
\topL{rvr}{1791}{5660}{Recall vs Recognition}{Recall commands or recognise words/buttons}
\topL{prdy}{1791}{5705}{Predictability}{What happened next?}
\topC{cnsy}{1693}{5802}{Consistency}{Do the same things in the same way}
\topC{cna}{1455}{5749}{External consistency: Consistency with task}{Aids learning through transfer}
\topC{cnb}{1520}{5792}{Ergonomic issues}{grouping; frequency; etc}
\topC{cnc}{1407}{5837}{Internal consistency: Arbitrary consistency}{When there is no meaning to the mapping or consistency with task}
\foreach \c in {cna,cnb,cnc}{\linkL{cnsy}{1640}{\c}}
\topC{rch}{1678}{5903}{Reachability}{Can the user reach all parts of the system?}
\kidsL{rch}{1624}{1551}{5860/{Does the UI map from all parts of task model to system model?}}
\topC{rchb}{1395}{5905}{Can the system  do things that I cannot ask it to do?}{Turning off the paperclip; etc}
\linkL{rch}{1624}{rchb}
\topC{tin}{1640}{5984}{Translating Input}{Input language translated to the system’s core language}
\topC{tina}{1267}{5950}{Can the input reach the(and only the) necessary states of the system ?}{Video remote controls and power buttons}
\linkL{tin}{1573}{tina}
\kidsL{tin}{1573}{1476}{5973/{Seen in task analysis or activity diagrams to use cases and class/collaboration diagrams},5998/{Small cost to user, larger cost in implementation}}
\topC{eoe}{1692}{6100}{Ease of Evaluation}{Performance of task transforms state}
\topC{eoa}{1421}{6044}{Translate state from core to output language}{output language: the computer trying to communicate back}
\topC{eoc}{1443}{6112}{Output language often limited in expressivity}{Results of file copy in command system}
\linkL{eoe}{1622}{eoa} \linkL{eoe}{1622}{eoc}
\kidsL{eoe}{1622}{1579}{6066/{Must preserve state attributes in terms of domain concepts},6136/{Video simply limited in size – difficult to see context in documents etc.}}
\foreach \c in {lrn,rvr,prdy,cnsy,rch,tin,eoe}{\linkL{erg}{1800}{\c}}
% Heuristic evaluation
\node[lf,anchor=east] (heu) at (1983,6347) {Heuristic Evaluation};
\topL{hea}{1840}{6182}{Simple and natural dialogue}{simple means no irrelevant or rarely used information; natural means an order that matches the task.}
\topL{heb}{1840}{6226}{Speak the user’s language}{use concepts from the user’s world; don’t use system-specific engineering terms.}
\topL{hec}{1840}{6269}{Minimize user memory load}{don’t make the user remember things from one action to the next: leave information on the screen until it is no longer needed.}
\topL{hed}{1840}{6314}{Be consistent}{action sequences learned in one part of the system should apply in other  parts.}
\topL{hee}{1840}{6358}{Provide feedback}{let users know what effect their actions have on the system}
\topL{hef}{1840}{6401}{Provide clearly marked exits}{if users get into part of the system that doesn’t interest them, they should  be able to get out quickly without damaging anything.}
\topL{heg}{1840}{6446}{Provide short cuts}{help experienced users avoid lengthy dialogs and informational messages they don’t need.}
\topL{heh}{1840}{6490}{Good error messages}{let the user know what the problem is and how to correct it.}
\topL{hei}{1840}{6534}{Prevent errors}{ask if that error could have been prevented., whenever you discover an error message}
\foreach \c in {hea,heb,hec,hed,hee,hef,heg,heh,hei}{\linkL{heu}{1849}{\c}}
\foreach \c in {udim,ubas,uwhen,wimp,prin,hum,cyc,cmp,hci,sty,mm,erg,heu}{\hubL{ui}{1995}{\c}}

% ---------------- layers: background, boundaries, connectors ----------------
\begin{pgfonlayer}{back}
\fill[bgc] (0,0) rectangle (3975,6560);
\boxlist
\end{pgfonlayer}
\begin{pgfonlayer}{wires}
\wirelist
\draw[conn] (se.north) -- (des.south east);
\draw[conn] (se.north) -- (tst.south east);
\draw[conn] (se.north) -- (risk.south west);
\draw[conn] (se.north) -- (req.south west);
\draw[conn] (se.south) -- (ui.north east);
\draw[conn] (se.south) -- (uml.north west);
\draw[conn] (se.south) -- (proc.north west);
\end{pgfonlayer}
\end{tikzpicture}
\end{document}
